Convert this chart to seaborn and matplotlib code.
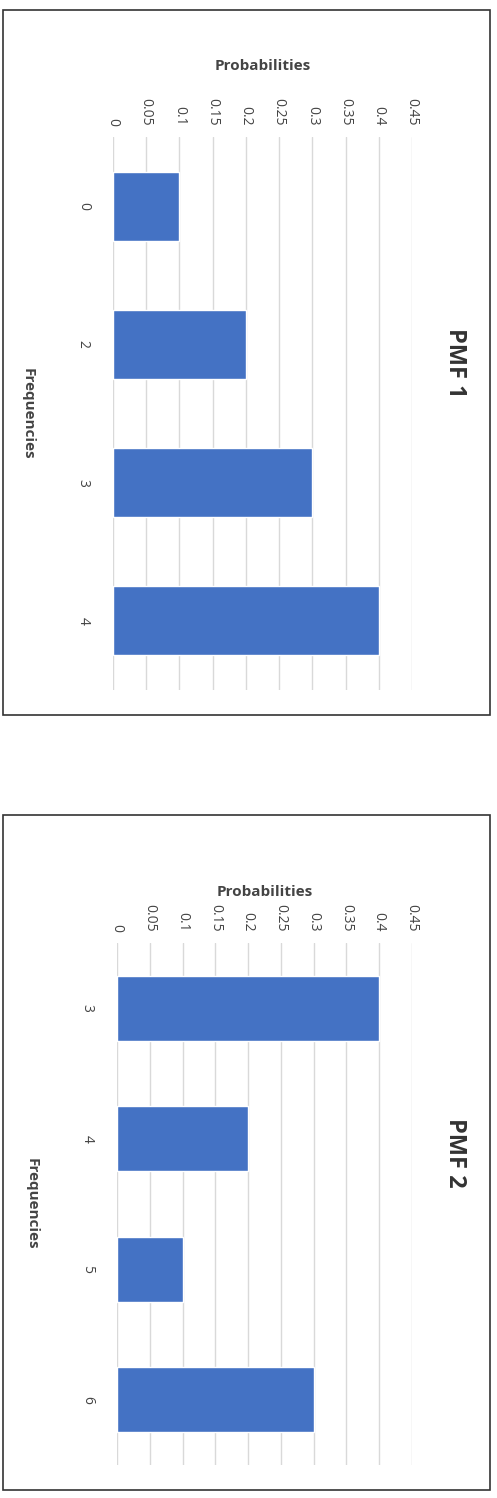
import matplotlib
matplotlib.use("Agg")
import matplotlib.pyplot as plt
import seaborn as sns
from matplotlib.patches import Rectangle

freq1 = ["0", "2", "3", "4"]
prob1 = [0.1, 0.2, 0.3, 0.4]
freq2 = ["3", "4", "5", "6"]
prob2 = [0.4, 0.2, 0.1, 0.3]
ticks = [0, 0.05, 0.1, 0.15, 0.2, 0.25, 0.3, 0.35, 0.4, 0.45]
tick_labels = ["0", "0.05", "0.1", "0.15", "0.2", "0.25", "0.3", "0.35", "0.4", "0.45"]

sns.set_theme(style="white")
plt.rcParams["font.family"] = ["Open Sans", "DejaVu Sans"]

W, H = 497, 1498
fig = plt.figure(figsize=(W / 100, H / 100), dpi=100)

def panel(rect, box, cats, vals, title, xpad):
    ax = fig.add_axes(rect)
    sns.barplot(x=vals, y=cats, order=cats, orient="h", color="#4472C4",
                width=0.5, saturation=1, ax=ax)
    ax.set_xlim(0, 0.45)
    ax.set_xticks(ticks)
    ax.set_xticklabels(tick_labels, rotation=-90, fontsize=10, color="#444444")
    ax.xaxis.tick_top()
    ax.xaxis.set_label_position("top")
    ax.set_xlabel("Probabilities", fontsize=11, color="#444444", fontweight="bold", labelpad=xpad)
    ax.set_ylabel("Frequencies", fontsize=11, color="#444444", fontweight="bold", rotation=-90, labelpad=40)
    ax.set_yticks(range(len(cats)))
    ax.set_yticklabels(cats, rotation=-90, fontsize=10, color="#444444", va="center")
    ax.tick_params(axis="x", length=0, pad=8)
    ax.tick_params(axis="y", length=0, pad=16)
    ax.grid(axis="x", color="#d9d9d9", lw=1)
    ax.set_axisbelow(True)
    for s in ax.spines.values():
        s.set_visible(False)
    x0, y0, x1, y1 = box
    fig.patches.append(Rectangle((x0 / W, 1 - y1 / H), (x1 - x0) / W, (y1 - y0) / H,
                                 transform=fig.transFigure, fill=False, ec="#333333", lw=1.2))
    fig.text(455 / W, 1 - ((y0 + y1) / 2) / H, title, rotation=-90, fontsize=17,
             fontweight="bold", color="#333333", ha="center", va="center")

panel([113 / W, 1 - 690 / H, 299 / W, 553 / H], (3, 10, 490, 715), freq1, prob1, "PMF 1", 20)
panel([117 / W, 1 - 1465 / H, 295 / W, 522 / H], (3, 815, 490, 1490), freq2, prob2, "PMF 2", 6)

fig.savefig("out.png", dpi=100)
